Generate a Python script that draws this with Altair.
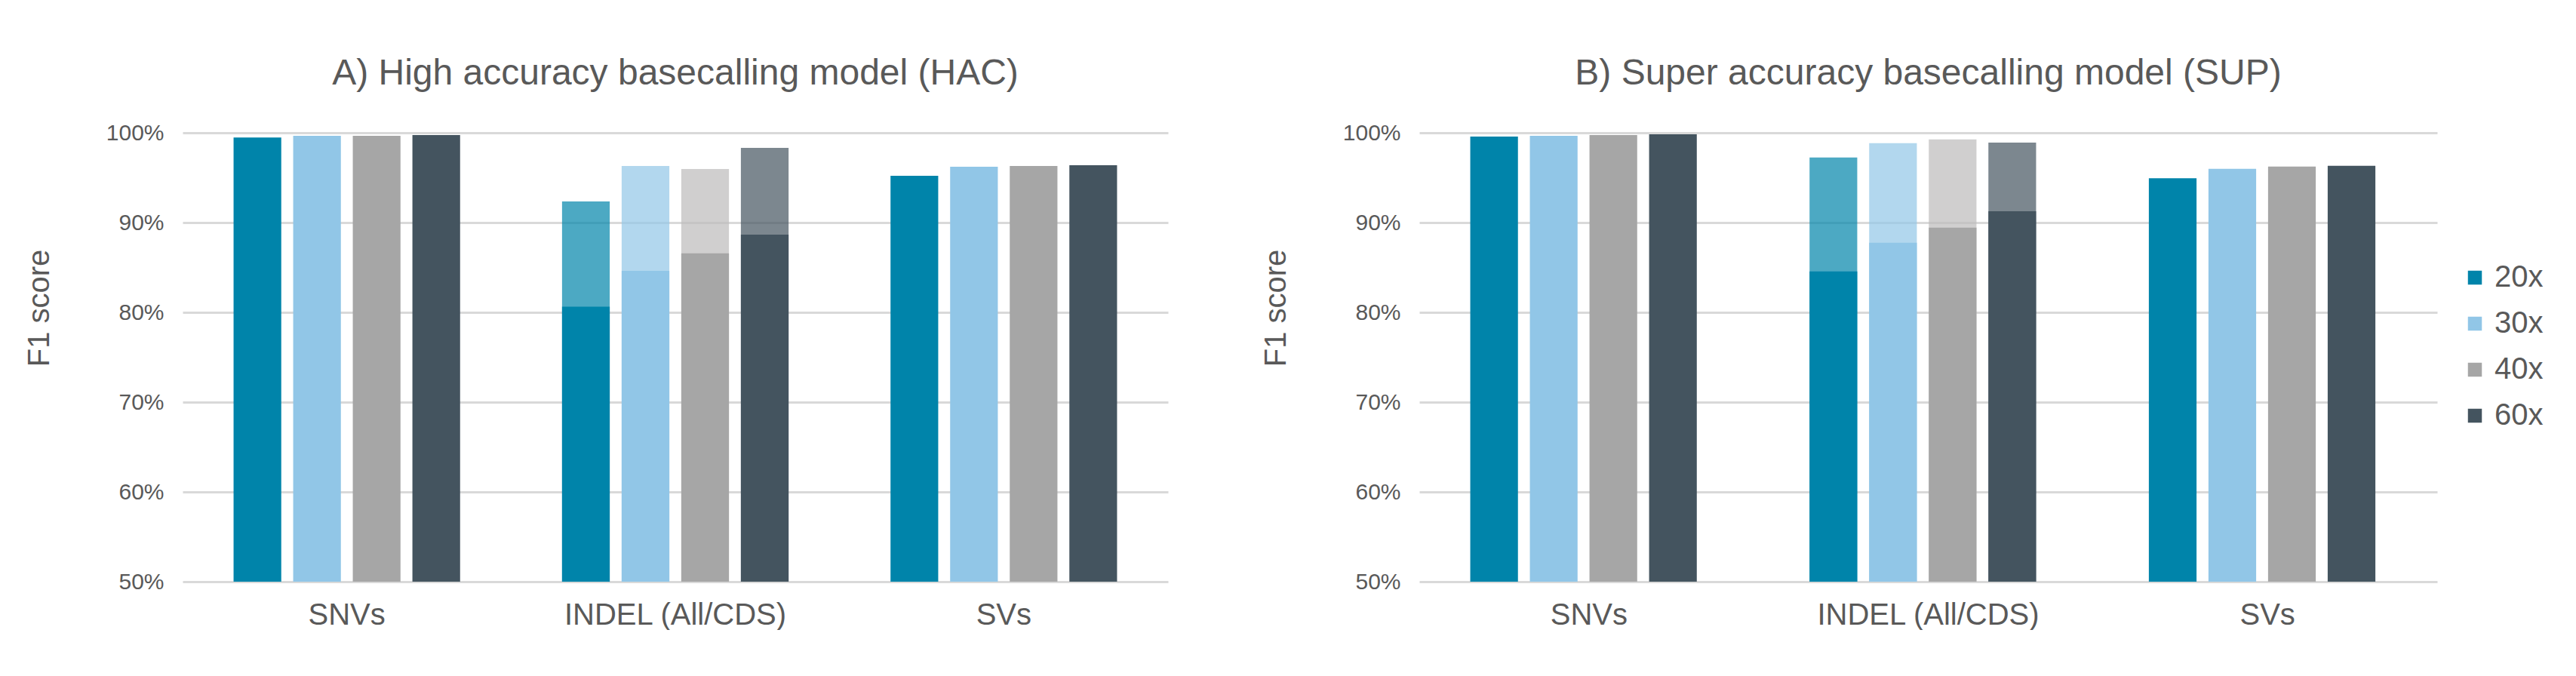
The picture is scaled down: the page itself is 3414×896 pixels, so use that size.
import altair as alt
import pandas as pd

FONT = "Liberation Sans"
TXT = "#595959"

categories = ["SNVs", "INDEL (All/CDS)", "SVs"]
coverages = ["20x", "30x", "40x", "60x"]
colors = ["#0084AA", "#91C6E7", "#A6A6A6", "#44545F"]
# CDS part of the INDEL bars: same hues, translucent (gridlines show through)
cds_colors = ["rgba(0,132,170,0.7)", "rgba(145,198,231,0.7)",
              "rgba(188,186,187,0.7)", "rgba(68,84,95,0.7)"]
y_ticks = [0.5, 0.6, 0.7, 0.8, 0.9, 1.0]

# HAC model
hac_snv = [0.9947, 0.9966, 0.9966, 0.9975]
hac_indel_all = [0.8063, 0.8463, 0.8657, 0.8866]
hac_indel_cds = [0.9236, 0.9631, 0.9597, 0.9832]
hac_sv = [0.9521, 0.9622, 0.9631, 0.9639]

# SUP model
sup_snv = [0.9958, 0.9966, 0.9975, 0.9983]
sup_indel_all = [0.8455, 0.8775, 0.8944, 0.9126]
sup_indel_cds = [0.9725, 0.9885, 0.9927, 0.9890]
sup_sv = [0.9494, 0.9598, 0.9624, 0.9632]


def frames(snv, indel_all, indel_cds, sv):
    rows = []
    for cat, vals in zip(categories, [snv, indel_all, sv]):
        for cov, v in zip(coverages, vals):
            rows.append({"category": cat, "coverage": cov, "value": v})
    cds_rows = []
    for cov, v, c in zip(coverages, indel_cds, cds_colors):
        cds_rows.append({"category": categories[1], "coverage": cov, "value": v, "cds_color": c})
    return pd.DataFrame(rows), pd.DataFrame(cds_rows)


def panel(title, snv, indel_all, indel_cds, sv, width):
    main, cds = frames(snv, indel_all, indel_cds, sv)
    x = alt.X(
        "category:N", sort=categories, title=None,
        scale=alt.Scale(paddingInner=0, paddingOuter=0),
        axis=alt.Axis(labelAngle=0, labelFontSize=40, labelColor=TXT, labelFont=FONT,
                      labelPadding=24, labelLimit=0, ticks=False, domain=False, grid=False),
    )
    xo = alt.XOffset("coverage:N", sort=coverages,
                     scale=alt.Scale(paddingInner=0.2, paddingOuter=0.855))
    y = alt.Y(
        "value:Q", title="F1 score",
        scale=alt.Scale(domain=[0.5, 1.0], zero=False, nice=False),
        axis=alt.Axis(values=y_ticks, format=".0%", labelFontSize=30, labelColor=TXT,
                      labelFont=FONT, labelPadding=25, ticks=False, domain=False,
                      gridColor="#D9D9D9", gridWidth=3, titleFontSize=40,
                      titleFont=FONT, titleColor=TXT, titleFontWeight="normal",
                      titlePadding=68, titleY=232),
    )
    cds_layer = alt.Chart(cds).mark_bar().encode(
        x=x, xOffset=xo, y=y, y2=alt.datum(0.5),
        color=alt.Color("cds_color:N", scale=None),
    )
    main_layer = alt.Chart(main).mark_bar().encode(
        x=x, xOffset=xo, y=y, y2=alt.datum(0.5),
        color=alt.Color("coverage:N", sort=coverages,
                        scale=alt.Scale(domain=coverages, range=colors),
                        legend=alt.Legend(title=None, orient="none", legendX=3018, legendY=172,
                                          symbolType="square", symbolSize=342,
                                          symbolOpacity=1, symbolStrokeWidth=0,
                                          labelFontSize=40, labelLimit=0,
                                          labelFont=FONT, labelColor=TXT, labelOffset=6,
                                          rowPadding=21, padding=0)),
    )
    return alt.layer(cds_layer, main_layer).properties(
        width=width, height=595,
        title=alt.TitleParams(title, fontSize=48, font=FONT, color=TXT,
                              fontWeight="normal", offset=1, baseline="alphabetic"),
    )


left = panel("A) High accuracy basecalling model (HAC)", hac_snv, hac_indel_all, hac_indel_cds, hac_sv, 1306)
right = panel("B) Super accuracy basecalling model (SUP)", sup_snv, sup_indel_all, sup_indel_cds, sup_sv, 1349)

chart = alt.hconcat(left, right, spacing=123).resolve_scale(
    x="independent", y="independent"
).properties(
    padding={"left": 32, "top": 74, "right": 0, "bottom": 0},
    background="white",
).configure_view(stroke=None)

chart.save("out.html", embed_options={"renderer": "svg", "actions": False})
